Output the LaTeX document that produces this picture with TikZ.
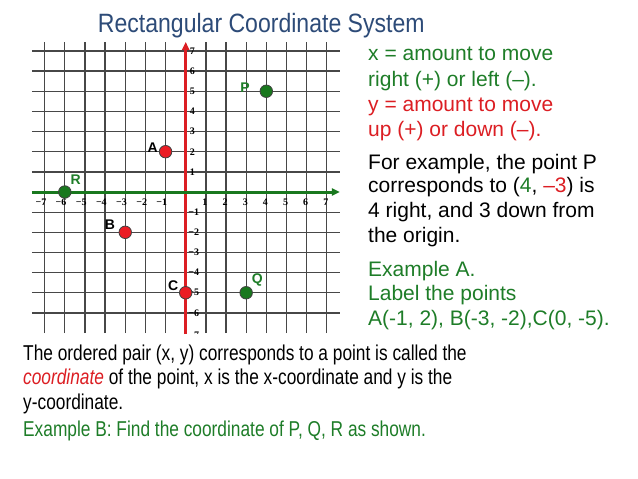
\documentclass[tikz,border=0pt]{standalone}
\usepackage{fontspec}
\setmainfont{Liberation Sans}
\newfontfamily\condsans[FakeStretch=0.805]{Liberation Sans}
\newfontfamily\titlesans[FakeStretch=0.87]{Liberation Sans}
\newfontfamily\tickfont{Liberation Serif}
\usetikzlibrary{arrows.meta}
\definecolor{tgreen}{RGB}{30,125,40}
\definecolor{tred}{RGB}{220,30,35}
\definecolor{tblue}{RGB}{45,75,120}
\definecolor{ptred}{RGB}{235,28,36}
\definecolor{ptgreen}{RGB}{25,120,30}
\tikzset{
  gridline/.style={draw=black!72, line width=1.3pt},
  yaxisline/.style={draw=tred, line width=3pt, -{Triangle[length=8pt,width=7pt]}},
  xaxisline/.style={draw=ptgreen, line width=3pt, -{Triangle[length=8pt,width=7pt]}},
  ticklab/.style={inner sep=0pt, font=\tickfont\bfseries\fontsize{10}{11}\selectfont},
  redpt/.style={circle, fill=ptred, draw=black!75, line width=0.8pt, minimum size=12.5pt, inner sep=0pt},
  greenpt/.style={circle, fill=ptgreen, draw=black!75, line width=0.8pt, minimum size=12.5pt, inner sep=0pt},
  ptlabel/.style={inner sep=0pt, font=\bfseries\fontsize{14}{16}\selectfont},
  rtext/.style={anchor=base west, inner sep=0pt, font=\fontsize{21}{25}\selectfont},
  btext/.style={anchor=base west, inner sep=0pt, font=\condsans\fontsize{21.5}{25}\selectfont},
  titlestyle/.style={anchor=base west, inner sep=0pt, text=tblue, font=\titlesans\fontsize{26.5}{30}\selectfont}
}
\begin{document}
\begin{tikzpicture}[x=1pt,y=-1pt]
\fill[white] (0,0) rectangle (638,479);
\useasboundingbox (0,0) rectangle (638,479);

\node[titlestyle] (title) at (97.7,32.7) {Rectangular Coordinate System};

\begin{scope}[shift={(185.7,192)}, x=20.15pt, y=20.15pt]
  % grid
  \foreach \i in {-7,...,-1,1,2,...,7}
    \draw[gridline] (\i,-7) -- (\i,7.444);
  \foreach \j in {-6,...,-1,1,2,...,7}
    \draw[gridline] (-7.628,\j) -- (7.653,\j);
  % tick labels
  \foreach \i in {1,...,7}
    \node[ticklab, anchor=east] (xp\i) at ({\i+0.09},-0.53) {\i};
  \foreach \i in {1,...,7}
    \node[ticklab, anchor=east] (xm\i) at ({-\i+0.09},-0.53) {−\i};
  \foreach \j in {1,...,7}
    \node[ticklab, anchor=west] (yp\j) at (0.2,\j) {\j};
  \foreach \j in {1,...,6}
    \node[ticklab, anchor=west] (ym\j) at (0.12,-\j) {−\j};
  \begin{scope}
    \clip (0,-6.9) rectangle (1,-7.02);
    \node[ticklab, anchor=west] (ym7) at (0.12,-7.12) {−7};
  \end{scope}
  % axes
  \draw[yaxisline] (0,-7.05) -- (0,7.45);
  \draw[xaxisline] (-7.63,0) -- (7.65,0);
  % points
  \node[greenpt] (P) at (4,5) {};
  \node[redpt] (A) at (-1,2) {};
  \node[greenpt] (R) at (-6,0) {};
  \node[redpt] (B) at (-3,-2) {};
  \node[redpt] (C) at (0,-5) {};
  \node[greenpt] (Q) at (3,-5) {};
\end{scope}

% point labels
\node[ptlabel, text=tgreen] (Plab) at (245,87.7) {P};
\node[ptlabel] (Alab) at (152.7,147.3) {A};
\node[ptlabel, text=tgreen] (Rlab) at (75.7,180) {R};
\node[ptlabel] (Blab) at (110,225) {B};
\node[ptlabel] (Clab) at (173.3,286) {C};
\node[ptlabel, text=tgreen] (Qlab) at (257.3,280) {Q};

% right text
\node[rtext, text=tgreen] (r1) at (368,60.7) {x = amount to move};
\node[rtext, text=tgreen] (r2) at (368,86.7) {right (+) or left (–).};
\node[rtext, text=tred] (r3) at (368,111.7) {y = amount to move};
\node[rtext, text=tred] (r4) at (368,136.7) {up (+) or down (–).};
\node[rtext] (r5) at (368,169) {For example, the point P};
\node[rtext] (r6) at (368,192.7) {corresponds to ({\color{tgreen}4}, {\color{tred}–3}) is};
\node[rtext] (r7) at (368,217) {4 right, and 3 down from};
\node[rtext] (r8) at (368,242) {the origin.};
\node[rtext, text=tgreen] (r9) at (368,276.7) {Example A.};
\node[rtext, text=tgreen] (r10) at (368,300.7) {Label the points};
\node[rtext, text=tgreen] (r11) at (368,325.7) {A(-1, 2), B(-3, -2),C(0, -5).};

% bottom text
\node[btext] (b1) at (23,360) {The ordered pair (x, y) corresponds to a point is called the};
\node[btext] (b2) at (23,384.3) {{\color{tred}\itshape coordinate} of the point, x is the x-coordinate and y is the};
\node[btext] (b3) at (23,409) {y-coordinate.};
\node[btext, text=tgreen] (b4) at (23,436.7) {Example B: Find the coordinate of P, Q, R as shown.};
\end{tikzpicture}
\end{document}
